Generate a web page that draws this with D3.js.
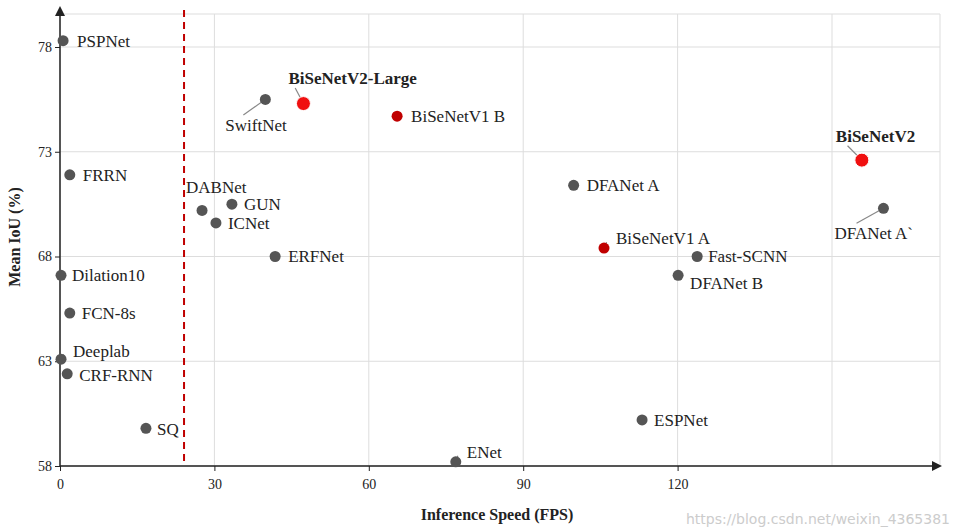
<!DOCTYPE html><html><head><meta charset="utf-8"><script src="https://cdn.jsdelivr.net/npm/d3@7"></script>
<style>body{margin:0;background:#fff}text{font-family:"Liberation Serif","DejaVu Serif",serif}</style></head><body><svg id="c" width="958" height="529"></svg>
<script>
const names=["PSPNet","SwiftNet","BiSeNetV2-Large","BiSeNetV1 B","BiSeNetV2","DFANet A`","FRRN","DFANet A","DABNet","GUN","ICNet","ERFNet","BiSeNetV1 A","Fast-SCNN","DFANet B","Dilation10","FCN-8s","Deeplab","CRF-RNN","SQ","ESPNet","ENet"];
const fps=[0.6,39.9,47.3,65.5,155.8,160,1.9,99.8,27.6,33.4,30.3,41.8,105.7,123.8,120.1,0.2,1.9,0.2,1.4,16.7,113.1,76.9];
const miou=[78.3,75.5,75.3,74.7,72.6,70.3,71.9,71.4,70.2,70.5,69.6,68.0,68.4,68.0,67.1,67.1,65.3,63.1,62.4,59.8,60.2,58.2];
const ours=[0,0,2,1,2,0,0,0,0,0,0,0,1,0,0,0,0,0,0,0,0,0];
const xTicks=[0,30,60,90,120];
const yTicks=[58,63,68,73,78];
const cutoff=24.1;
// label layout: [dx,dy,leader]
const lay=[[14,0,0],[-40,26,1],[-15,-26,1],[14,0,0],[-26,-24,1],[-49,25,1],[13,0,0],[13,0,0],[-16,-23,0],[12,0,0],[12,0,0],[13,0,0],[12,-10,1],[11,0,0],[12,8,1],[11,0,0],[12,0,0],[12,-8,1],[12,1,0],[11,1,0],[12,0,0],[11,-10,1]];
const svg=d3.select("#c");
const x=d3.scaleLinear().domain([0,150]).range([60,832]);
const y=d3.scaleLinear().domain([58,78]).range([466,47]);
const X1=940,Y0=8;
const g=svg.append("g");
yTicks.forEach(t=>g.append("line").attr("x1",60).attr("x2",X1).attr("y1",y(t)).attr("y2",y(t)).attr("stroke","#ddd"));
xTicks.forEach(t=>g.append("line").attr("x1",x(t)).attr("x2",x(t)).attr("y1",Y0+6).attr("y2",466).attr("stroke","#ddd"));
[150].forEach(t=>g.append("line").attr("x1",x(t)).attr("x2",x(t)).attr("y1",Y0+6).attr("y2",466).attr("stroke","#ddd"));
g.append("line").attr("x1",X1).attr("x2",X1).attr("y1",Y0+6).attr("y2",466).attr("stroke","#ddd");
g.append("line").attr("x1",60).attr("x2",X1).attr("y1",Y0+6).attr("y2",Y0+6).attr("stroke","#ddd");
// axes
const ax=svg.append("g").attr("transform","translate(0,466)").call(d3.axisBottom(x).tickValues(xTicks).tickSize(5));
const ay=svg.append("g").attr("transform","translate(60,0)").call(d3.axisLeft(y).tickValues(yTicks).tickSize(5));
[ax,ay].forEach(a=>{a.select(".domain").remove();a.selectAll("text").attr("font-size",14).attr("fill","#222").style("font-family","Liberation Serif");a.selectAll("line").attr("stroke","#222");});
ax.selectAll("text").attr("dy","1.1em");
svg.append("line").attr("x1",60).attr("x2",X1-2).attr("y1",466).attr("y2",466).attr("stroke","#222").attr("stroke-width",1.5);
svg.append("line").attr("x1",60).attr("x2",60).attr("y1",466).attr("y2",Y0+2).attr("stroke","#222").attr("stroke-width",1.5);
svg.append("path").attr("d",`M${X1+2},466 l-10,-5 l0,10 z`).attr("fill","#222");
svg.append("path").attr("d",`M60,${Y0-2} l-5,10 l10,0 z`).attr("fill","#222");
svg.append("line").attr("x1",x(cutoff)).attr("x2",x(cutoff)).attr("y1",Y0+2).attr("y2",466).attr("stroke","#c00000").attr("stroke-width",2).attr("stroke-dasharray","7,5");
svg.append("text").attr("x",497).attr("y",520).attr("text-anchor","middle").attr("font-size",16).attr("font-weight","bold").attr("fill","#222").text("Inference Speed (FPS)");
svg.append("text").attr("transform","translate(20,237) rotate(-90)").attr("text-anchor","middle").attr("font-size",16).attr("font-weight","bold").attr("fill","#222").text("Mean IoU (%)");
const pts=svg.append("g");
names.forEach((n,i)=>{
 const px=x(fps[i]),py=y(miou[i]);const [dx,dy,ld]=lay[i];
 if(ld){pts.append("line").attr("x1",px).attr("y1",py).attr("x2",px+dx*0.55+(dx<0?0:-4)).attr("y2",py+dy*0.6).attr("stroke","#888").attr("stroke-width",1.2);}
});
names.forEach((n,i)=>{
 const px=x(fps[i]),py=y(miou[i]);const [dx,dy]=lay[i];
 pts.append("circle").attr("cx",px).attr("cy",py).attr("r",ours[i]==2?7:ours[i]==1?5.5:5.5).attr("fill",ours[i]?(ours[i]==2?"#f01010":"#c00000"):"#555").attr("stroke",ours[i]==2?"#fff":"none").attr("stroke-width",1);
 pts.append("text").attr("x",px+dx).attr("y",py+dy).attr("dy","0.35em").attr("font-size",17).attr("font-weight",ours[i]==2?"bold":"normal").attr("fill","#222").text(n);
});
svg.append("text").attr("x",950).attr("y",524).attr("text-anchor","end").attr("font-size",14).attr("fill","#ccc").style("font-family","DejaVu Sans").text("https://blog.csdn.net/weixin_4365381");
</script></body></html>
